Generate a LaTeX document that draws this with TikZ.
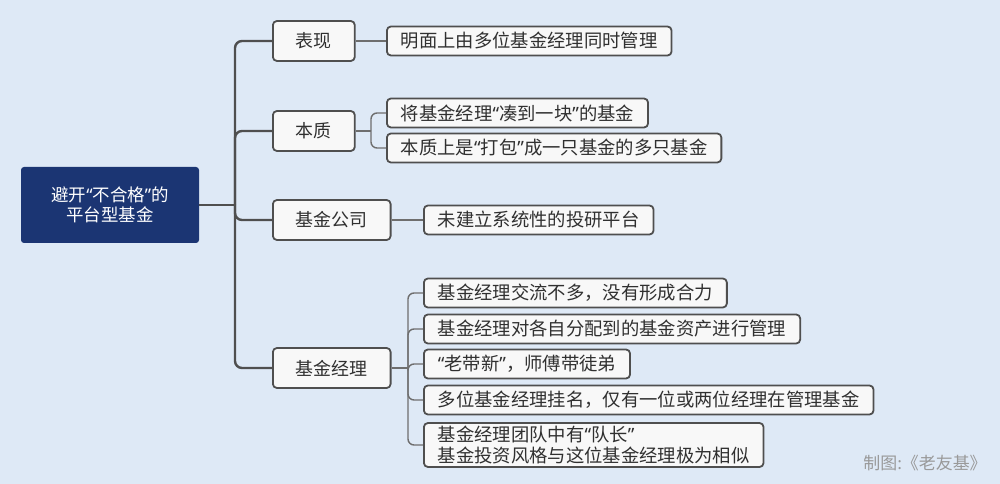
\documentclass[tikz,border=0pt]{standalone}
\usepackage{fontspec}
\setmainfont{Noto Sans CJK SC}
\newfontfamily\quotefont{Noto Sans}
\newcommand{\openq}{{\quotefont “}}
\newcommand{\closeq}{{\quotefont ”}}
\usepackage{tikz}
\usetikzlibrary{positioning}
\definecolor{bgcol}{HTML}{DEE9F6}
\definecolor{rootcol}{HTML}{1B3573}
\definecolor{linecol}{HTML}{4F4F4F}
\definecolor{twigcol}{HTML}{6E6E6E}
\definecolor{boxcol}{HTML}{F8F8F8}
\definecolor{textcol}{HTML}{303030}

\begin{document}
\begin{tikzpicture}[line join=round,
  rootshape/.style={rectangle, rounded corners=3bp, fill=rootcol,
                    minimum width=178bp, minimum height=76bp,
                    text=white, align=center,
                    font=\fontsize{17.5}{20}\selectfont},
  topic/.style={rectangle, rounded corners=4bp, draw=linecol, line width=1.8bp,
                fill=boxcol, text=textcol, anchor=west,
                inner xsep=23bp, minimum height=40bp,
                font=\fontsize{18}{21}\selectfont},
  leaf/.style={rectangle, rounded corners=4bp, draw=linecol, line width=1.8bp,
               fill=boxcol, text=textcol, anchor=west, align=left,
               inner xsep=14bp, inner ysep=3bp, minimum height=29bp,
               font=\fontsize{18.4}{21}\selectfont},
  trunk/.style={draw=linecol, line width=2.4bp, rounded corners=7bp},
  twig/.style={draw=twigcol, line width=1.4bp, rounded corners=6bp},
  ]
%%
\begin{scope}
  \fill[bgcol] (0bp,0bp) rectangle (1000bp,484bp);
  \useasboundingbox (0bp,0bp) rectangle (1000bp,484bp);
\end{scope}
  \node (root) at (110bp,279bp) [rootshape] {避开\openq 不合格\closeq 的\\平台型基金};
  \coordinate (spine) at (235bp,279bp);
  \coordinate (fork2) at (371bp,353bp);
  \coordinate (fork4) at (408bp,116bp);

  \node (node1) at (272bp,443bp) [topic] {表现};
  \node (node2) at (272bp,353bp) [topic] {本质};
  \node (node3) at (272bp,264bp) [topic] {基金公司};
  \node (node4) at (272bp,116bp) [topic] {基金经理};

  \node (node1_1) at (386bp,443bp) [leaf] {明面上由多位基金经理同时管理};
  \node (node2_1) at (386bp,371bp) [leaf] {将基金经理\openq 凑到一块\closeq 的基金};
  \node (node2_2) at (386bp,336bp) [leaf] {本质上是\openq 打包\closeq 成一只基金的多只基金};
  \node (node3_1) at (423bp,264bp) [leaf] {未建立系统性的投研平台};
  \node (node4_1) at (423bp,191bp) [leaf] {基金经理交流不多，没有形成合力};
  \node (node4_2) at (423bp,155bp) [leaf] {基金经理对各自分配到的基金资产进行管理};
  \node (node4_3) at (423bp,120bp) [leaf] {\openq 老带新\closeq ，师傅带徒弟};
  \node (node4_4) at (423bp,84bp)  [leaf] {多位基金经理挂名，仅有一位或两位经理在管理基金};
  \node (node4_5) at (423bp,39bp)  [leaf] {基金经理团队中有\openq 队长\closeq \\基金投资风格与这位基金经理极为相似};

  \node (credit) at (925bp,21bp) [text=black!40, font=\fontsize{17}{20}\selectfont] {制图:《老友基》};

  \draw [trunk] (root.east) -- (spine);
  \draw [trunk] (spine) |- (node1.west);
  \draw [trunk] (spine) |- (node2.west);
  \draw [trunk] (spine) |- (node3.west);
  \draw [trunk] (spine) |- (node4.west);

  \draw [twig] (node1.east) -- (node1_1.west);
  \draw [twig] (node2.east) -- (fork2);
  \draw [twig] (fork2) |- (node2_1.west);
  \draw [twig] (fork2) |- (node2_2.west);
  \draw [twig] (node3.east) -- (node3_1.west);
  \draw [twig] (node4.east) -- (fork4);
  \draw [twig] (fork4) |- (node4_1.west);
  \draw [twig] (fork4) |- (node4_2.west);
  \draw [twig] (fork4) |- (node4_3.west);
  \draw [twig] (fork4) |- (node4_4.west);
  \draw [twig] (fork4) |- (node4_5.west);
%
\end{tikzpicture}
\end{document}
